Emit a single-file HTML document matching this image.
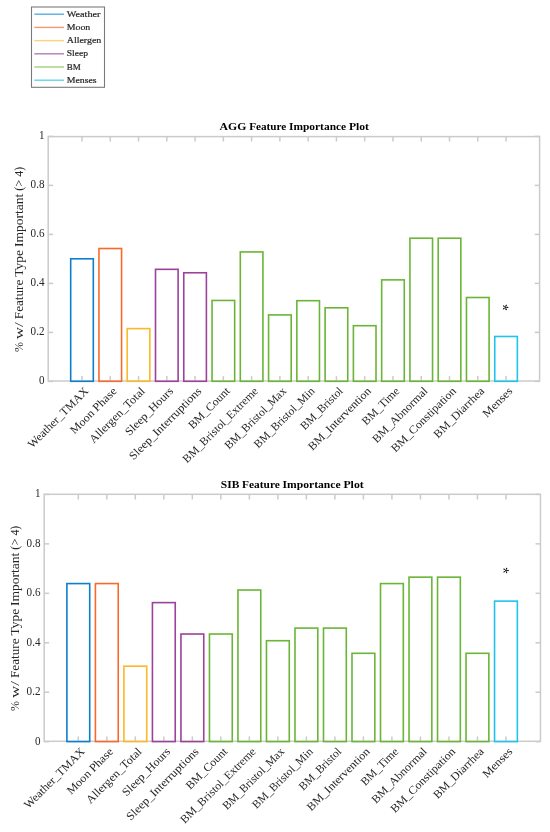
<!DOCTYPE html>
<html><head><meta charset="utf-8"><style>
html,body{margin:0;padding:0;background:#fff;}
svg{display:block;will-change:transform;font-family:"Liberation Serif", serif;}
</style></head><body>
<svg width="550" height="832" viewBox="0 0 550 832">
<rect x="31.5" y="7.0" width="73" height="80.3" fill="#fff" stroke="#7a7a7a" stroke-width="1.1"/>
<line x1="34.3" y1="14.20" x2="64" y2="14.20" stroke="#5aaee0" stroke-width="1.4"/>
<text x="66.70" y="16.80" font-size="9.1" fill="#262626" stroke="#262626" stroke-width="0.2" textLength="33.85" lengthAdjust="spacingAndGlyphs">Weather</text>
<line x1="34.3" y1="27.40" x2="64" y2="27.40" stroke="#f59a70" stroke-width="1.4"/>
<text x="66.70" y="30.00" font-size="9.1" fill="#262626" stroke="#262626" stroke-width="0.2" textLength="23.58" lengthAdjust="spacingAndGlyphs">Moon</text>
<line x1="34.3" y1="40.60" x2="64" y2="40.60" stroke="#fcd27a" stroke-width="1.4"/>
<text x="66.70" y="43.20" font-size="9.1" fill="#262626" stroke="#262626" stroke-width="0.2" textLength="34.66" lengthAdjust="spacingAndGlyphs">Allergen</text>
<line x1="34.3" y1="53.80" x2="64" y2="53.80" stroke="#b47ab8" stroke-width="1.4"/>
<text x="66.70" y="56.40" font-size="9.1" fill="#262626" stroke="#262626" stroke-width="0.2" textLength="21.38" lengthAdjust="spacingAndGlyphs">Sleep</text>
<line x1="34.3" y1="67.00" x2="64" y2="67.00" stroke="#9fd07a" stroke-width="1.4"/>
<text x="66.70" y="69.60" font-size="9.1" fill="#262626" stroke="#262626" stroke-width="0.2" textLength="14.01" lengthAdjust="spacingAndGlyphs">BM</text>
<line x1="34.3" y1="80.20" x2="64" y2="80.20" stroke="#62d4f0" stroke-width="1.4"/>
<text x="66.70" y="82.80" font-size="9.1" fill="#262626" stroke="#262626" stroke-width="0.2" textLength="30.01" lengthAdjust="spacingAndGlyphs">Menses</text>
<rect x="48.2" y="136.6" width="491.40000000000003" height="244.4" fill="none" stroke="#cbcbcb" stroke-width="1.5"/>
<line x1="82.00" y1="381" x2="82.00" y2="376.1" stroke="#cbcbcb" stroke-width="1.5"/>
<line x1="82.00" y1="136.6" x2="82.00" y2="141.5" stroke="#cbcbcb" stroke-width="1.5"/>
<line x1="110.27" y1="381" x2="110.27" y2="376.1" stroke="#cbcbcb" stroke-width="1.5"/>
<line x1="110.27" y1="136.6" x2="110.27" y2="141.5" stroke="#cbcbcb" stroke-width="1.5"/>
<line x1="138.54" y1="381" x2="138.54" y2="376.1" stroke="#cbcbcb" stroke-width="1.5"/>
<line x1="138.54" y1="136.6" x2="138.54" y2="141.5" stroke="#cbcbcb" stroke-width="1.5"/>
<line x1="166.81" y1="381" x2="166.81" y2="376.1" stroke="#cbcbcb" stroke-width="1.5"/>
<line x1="166.81" y1="136.6" x2="166.81" y2="141.5" stroke="#cbcbcb" stroke-width="1.5"/>
<line x1="195.08" y1="381" x2="195.08" y2="376.1" stroke="#cbcbcb" stroke-width="1.5"/>
<line x1="195.08" y1="136.6" x2="195.08" y2="141.5" stroke="#cbcbcb" stroke-width="1.5"/>
<line x1="223.35" y1="381" x2="223.35" y2="376.1" stroke="#cbcbcb" stroke-width="1.5"/>
<line x1="223.35" y1="136.6" x2="223.35" y2="141.5" stroke="#cbcbcb" stroke-width="1.5"/>
<line x1="251.62" y1="381" x2="251.62" y2="376.1" stroke="#cbcbcb" stroke-width="1.5"/>
<line x1="251.62" y1="136.6" x2="251.62" y2="141.5" stroke="#cbcbcb" stroke-width="1.5"/>
<line x1="279.89" y1="381" x2="279.89" y2="376.1" stroke="#cbcbcb" stroke-width="1.5"/>
<line x1="279.89" y1="136.6" x2="279.89" y2="141.5" stroke="#cbcbcb" stroke-width="1.5"/>
<line x1="308.16" y1="381" x2="308.16" y2="376.1" stroke="#cbcbcb" stroke-width="1.5"/>
<line x1="308.16" y1="136.6" x2="308.16" y2="141.5" stroke="#cbcbcb" stroke-width="1.5"/>
<line x1="336.43" y1="381" x2="336.43" y2="376.1" stroke="#cbcbcb" stroke-width="1.5"/>
<line x1="336.43" y1="136.6" x2="336.43" y2="141.5" stroke="#cbcbcb" stroke-width="1.5"/>
<line x1="364.70" y1="381" x2="364.70" y2="376.1" stroke="#cbcbcb" stroke-width="1.5"/>
<line x1="364.70" y1="136.6" x2="364.70" y2="141.5" stroke="#cbcbcb" stroke-width="1.5"/>
<line x1="392.97" y1="381" x2="392.97" y2="376.1" stroke="#cbcbcb" stroke-width="1.5"/>
<line x1="392.97" y1="136.6" x2="392.97" y2="141.5" stroke="#cbcbcb" stroke-width="1.5"/>
<line x1="421.24" y1="381" x2="421.24" y2="376.1" stroke="#cbcbcb" stroke-width="1.5"/>
<line x1="421.24" y1="136.6" x2="421.24" y2="141.5" stroke="#cbcbcb" stroke-width="1.5"/>
<line x1="449.51" y1="381" x2="449.51" y2="376.1" stroke="#cbcbcb" stroke-width="1.5"/>
<line x1="449.51" y1="136.6" x2="449.51" y2="141.5" stroke="#cbcbcb" stroke-width="1.5"/>
<line x1="477.78" y1="381" x2="477.78" y2="376.1" stroke="#cbcbcb" stroke-width="1.5"/>
<line x1="477.78" y1="136.6" x2="477.78" y2="141.5" stroke="#cbcbcb" stroke-width="1.5"/>
<line x1="506.05" y1="381" x2="506.05" y2="376.1" stroke="#cbcbcb" stroke-width="1.5"/>
<line x1="506.05" y1="136.6" x2="506.05" y2="141.5" stroke="#cbcbcb" stroke-width="1.5"/>
<line x1="48.2" y1="381.40" x2="53.1" y2="381.40" stroke="#cbcbcb" stroke-width="1.5"/>
<line x1="539.6" y1="381.40" x2="534.7" y2="381.40" stroke="#cbcbcb" stroke-width="1.5"/>
<text x="38.95" y="384.20" font-size="11.5" fill="#262626" textLength="5.55" lengthAdjust="spacingAndGlyphs">0</text>
<line x1="48.2" y1="332.40" x2="53.1" y2="332.40" stroke="#cbcbcb" stroke-width="1.5"/>
<line x1="539.6" y1="332.40" x2="534.7" y2="332.40" stroke="#cbcbcb" stroke-width="1.5"/>
<text x="30.62" y="335.20" font-size="11.5" fill="#262626" textLength="13.88" lengthAdjust="spacingAndGlyphs">0.2</text>
<line x1="48.2" y1="283.40" x2="53.1" y2="283.40" stroke="#cbcbcb" stroke-width="1.5"/>
<line x1="539.6" y1="283.40" x2="534.7" y2="283.40" stroke="#cbcbcb" stroke-width="1.5"/>
<text x="30.62" y="286.20" font-size="11.5" fill="#262626" textLength="13.88" lengthAdjust="spacingAndGlyphs">0.4</text>
<line x1="48.2" y1="234.40" x2="53.1" y2="234.40" stroke="#cbcbcb" stroke-width="1.5"/>
<line x1="539.6" y1="234.40" x2="534.7" y2="234.40" stroke="#cbcbcb" stroke-width="1.5"/>
<text x="30.62" y="237.20" font-size="11.5" fill="#262626" textLength="13.88" lengthAdjust="spacingAndGlyphs">0.6</text>
<line x1="48.2" y1="185.40" x2="53.1" y2="185.40" stroke="#cbcbcb" stroke-width="1.5"/>
<line x1="539.6" y1="185.40" x2="534.7" y2="185.40" stroke="#cbcbcb" stroke-width="1.5"/>
<text x="30.62" y="188.20" font-size="11.5" fill="#262626" textLength="13.88" lengthAdjust="spacingAndGlyphs">0.8</text>
<line x1="48.2" y1="136.40" x2="53.1" y2="136.40" stroke="#cbcbcb" stroke-width="1.5"/>
<line x1="539.6" y1="136.40" x2="534.7" y2="136.40" stroke="#cbcbcb" stroke-width="1.5"/>
<text x="38.95" y="139.20" font-size="11.5" fill="#262626" textLength="5.55" lengthAdjust="spacingAndGlyphs">1</text>
<rect x="70.69" y="258.80" width="22.62" height="122.50" fill="none" stroke="#0d7fcf" stroke-width="1.6"/>
<rect x="98.96" y="248.51" width="22.62" height="132.79" fill="none" stroke="#f9692c" stroke-width="1.6"/>
<rect x="127.23" y="328.62" width="22.62" height="52.67" fill="none" stroke="#fbb829" stroke-width="1.6"/>
<rect x="155.50" y="269.33" width="22.62" height="111.97" fill="none" stroke="#9b429b" stroke-width="1.6"/>
<rect x="183.77" y="272.77" width="22.62" height="108.53" fill="none" stroke="#9b429b" stroke-width="1.6"/>
<rect x="212.04" y="300.45" width="22.62" height="80.85" fill="none" stroke="#6ab538" stroke-width="1.6"/>
<rect x="240.31" y="251.94" width="22.62" height="129.36" fill="none" stroke="#6ab538" stroke-width="1.6"/>
<rect x="268.58" y="314.91" width="22.62" height="66.40" fill="none" stroke="#6ab538" stroke-width="1.6"/>
<rect x="296.85" y="300.69" width="22.62" height="80.61" fill="none" stroke="#6ab538" stroke-width="1.6"/>
<rect x="325.12" y="307.80" width="22.62" height="73.50" fill="none" stroke="#6ab538" stroke-width="1.6"/>
<rect x="353.39" y="325.69" width="22.62" height="55.62" fill="none" stroke="#6ab538" stroke-width="1.6"/>
<rect x="381.66" y="279.87" width="22.62" height="101.43" fill="none" stroke="#6ab538" stroke-width="1.6"/>
<rect x="409.93" y="238.22" width="22.62" height="143.08" fill="none" stroke="#6ab538" stroke-width="1.6"/>
<rect x="438.20" y="238.22" width="22.62" height="143.08" fill="none" stroke="#6ab538" stroke-width="1.6"/>
<rect x="466.47" y="297.51" width="22.62" height="83.79" fill="none" stroke="#6ab538" stroke-width="1.6"/>
<rect x="494.74" y="336.47" width="22.62" height="44.84" fill="none" stroke="#1fc3ee" stroke-width="1.6"/>
<text x="219.63" y="129.70" font-size="11.3" font-weight="bold" fill="#000" textLength="26.76" lengthAdjust="spacingAndGlyphs">AGG</text>
<text x="249.13" y="129.70" font-size="11.3" font-weight="bold" fill="#000" textLength="37.11" lengthAdjust="spacingAndGlyphs">Feature</text>
<text x="288.98" y="129.70" font-size="11.3" font-weight="bold" fill="#000" textLength="57.18" lengthAdjust="spacingAndGlyphs">Importance</text>
<text x="348.90" y="129.70" font-size="11.3" font-weight="bold" fill="#000" textLength="20.07" lengthAdjust="spacingAndGlyphs">Plot</text>
<text transform="translate(23.2,259.5) rotate(-90)" x="-92.64" y="0.00" font-size="11.9" fill="#262626" textLength="9.95" lengthAdjust="spacingAndGlyphs">%</text>
<text transform="translate(23.2,259.5) rotate(-90)" x="-79.72" y="0.00" font-size="11.9" fill="#262626" textLength="17.06" lengthAdjust="spacingAndGlyphs">w/</text>
<text transform="translate(23.2,259.5) rotate(-90)" x="-59.69" y="0.00" font-size="11.9" fill="#262626" textLength="39.56" lengthAdjust="spacingAndGlyphs">Feature</text>
<text transform="translate(23.2,259.5) rotate(-90)" x="-17.18" y="0.00" font-size="11.9" fill="#262626" textLength="26.65" lengthAdjust="spacingAndGlyphs">Type</text>
<text transform="translate(23.2,259.5) rotate(-90)" x="12.44" y="0.00" font-size="11.9" fill="#262626" textLength="53.28" lengthAdjust="spacingAndGlyphs">Important</text>
<text transform="translate(23.2,259.5) rotate(-90)" x="68.68" y="0.00" font-size="11.9" fill="#262626" textLength="11.13" lengthAdjust="spacingAndGlyphs">(&gt;</text>
<text transform="translate(23.2,259.5) rotate(-90)" x="82.77" y="0.00" font-size="11.9" fill="#262626" textLength="9.87" lengthAdjust="spacingAndGlyphs">4)</text>
<text transform="translate(89.15,391.75) rotate(-45)" x="-80.64" y="0.00" font-size="11.5" fill="#262626" textLength="80.64" lengthAdjust="spacingAndGlyphs">Weather_TMAX</text>
<text transform="translate(117.42,391.75) rotate(-45)" x="-60.59" y="0.00" font-size="11.5" fill="#262626" textLength="29.08" lengthAdjust="spacingAndGlyphs">Moon</text>
<text transform="translate(117.42,391.75) rotate(-45)" x="-28.74" y="0.00" font-size="11.5" fill="#262626" textLength="28.74" lengthAdjust="spacingAndGlyphs">Phase</text>
<text transform="translate(145.69,391.75) rotate(-45)" x="-73.56" y="0.00" font-size="11.5" fill="#262626" textLength="73.56" lengthAdjust="spacingAndGlyphs">Allergen_Total</text>
<text transform="translate(173.96,391.75) rotate(-45)" x="-62.99" y="0.00" font-size="11.5" fill="#262626" textLength="62.99" lengthAdjust="spacingAndGlyphs">Sleep_Hours</text>
<text transform="translate(202.23,391.75) rotate(-45)" x="-97.26" y="0.00" font-size="11.5" fill="#262626" textLength="97.26" lengthAdjust="spacingAndGlyphs">Sleep_Interruptions</text>
<text transform="translate(230.50,391.75) rotate(-45)" x="-53.54" y="0.00" font-size="11.5" fill="#262626" textLength="53.54" lengthAdjust="spacingAndGlyphs">BM_Count</text>
<text transform="translate(258.77,391.75) rotate(-45)" x="-101.34" y="0.00" font-size="11.5" fill="#262626" textLength="101.34" lengthAdjust="spacingAndGlyphs">BM_Bristol_Extreme</text>
<text transform="translate(287.04,391.75) rotate(-45)" x="-82.17" y="0.00" font-size="11.5" fill="#262626" textLength="82.17" lengthAdjust="spacingAndGlyphs">BM_Bristol_Max</text>
<text transform="translate(315.31,391.75) rotate(-45)" x="-80.59" y="0.00" font-size="11.5" fill="#262626" textLength="80.59" lengthAdjust="spacingAndGlyphs">BM_Bristol_Min</text>
<text transform="translate(343.58,391.75) rotate(-45)" x="-54.85" y="0.00" font-size="11.5" fill="#262626" textLength="54.85" lengthAdjust="spacingAndGlyphs">BM_Bristol</text>
<text transform="translate(371.85,391.75) rotate(-45)" x="-83.77" y="0.00" font-size="11.5" fill="#262626" textLength="83.77" lengthAdjust="spacingAndGlyphs">BM_Intervention</text>
<text transform="translate(400.12,391.75) rotate(-45)" x="-47.99" y="0.00" font-size="11.5" fill="#262626" textLength="47.99" lengthAdjust="spacingAndGlyphs">BM_Time</text>
<text transform="translate(428.39,391.75) rotate(-45)" x="-73.09" y="0.00" font-size="11.5" fill="#262626" textLength="73.09" lengthAdjust="spacingAndGlyphs">BM_Abnormal</text>
<text transform="translate(456.66,391.75) rotate(-45)" x="-86.37" y="0.00" font-size="11.5" fill="#262626" textLength="86.37" lengthAdjust="spacingAndGlyphs">BM_Constipation</text>
<text transform="translate(484.93,391.75) rotate(-45)" x="-66.30" y="0.00" font-size="11.5" fill="#262626" textLength="66.30" lengthAdjust="spacingAndGlyphs">BM_Diarrhea</text>
<text transform="translate(513.20,391.75) rotate(-45)" x="-37.01" y="0.00" font-size="11.5" fill="#262626" textLength="37.01" lengthAdjust="spacingAndGlyphs">Menses</text>
<path d="M505.50 307.40L507.80 307.40M505.50 307.40L506.21 309.59M505.50 307.40L503.64 308.75M505.50 307.40L503.64 306.05M505.50 307.40L506.21 305.21" stroke="#222" stroke-width="0.85" stroke-linecap="round" fill="none"/>
<circle cx="507.70" cy="307.40" r="0.65" fill="#111"/>
<circle cx="506.18" cy="309.49" r="0.65" fill="#111"/>
<circle cx="503.72" cy="308.69" r="0.65" fill="#111"/>
<circle cx="503.72" cy="306.11" r="0.65" fill="#111"/>
<circle cx="506.18" cy="305.31" r="0.65" fill="#111"/>
<rect x="44.2" y="494.3" width="496.25" height="246.99999999999994" fill="none" stroke="#cbcbcb" stroke-width="1.5"/>
<line x1="78.30" y1="741.3" x2="78.30" y2="736.4" stroke="#cbcbcb" stroke-width="1.5"/>
<line x1="78.30" y1="494.6" x2="78.30" y2="499.5" stroke="#cbcbcb" stroke-width="1.5"/>
<line x1="106.81" y1="741.3" x2="106.81" y2="736.4" stroke="#cbcbcb" stroke-width="1.5"/>
<line x1="106.81" y1="494.6" x2="106.81" y2="499.5" stroke="#cbcbcb" stroke-width="1.5"/>
<line x1="135.32" y1="741.3" x2="135.32" y2="736.4" stroke="#cbcbcb" stroke-width="1.5"/>
<line x1="135.32" y1="494.6" x2="135.32" y2="499.5" stroke="#cbcbcb" stroke-width="1.5"/>
<line x1="163.83" y1="741.3" x2="163.83" y2="736.4" stroke="#cbcbcb" stroke-width="1.5"/>
<line x1="163.83" y1="494.6" x2="163.83" y2="499.5" stroke="#cbcbcb" stroke-width="1.5"/>
<line x1="192.34" y1="741.3" x2="192.34" y2="736.4" stroke="#cbcbcb" stroke-width="1.5"/>
<line x1="192.34" y1="494.6" x2="192.34" y2="499.5" stroke="#cbcbcb" stroke-width="1.5"/>
<line x1="220.85" y1="741.3" x2="220.85" y2="736.4" stroke="#cbcbcb" stroke-width="1.5"/>
<line x1="220.85" y1="494.6" x2="220.85" y2="499.5" stroke="#cbcbcb" stroke-width="1.5"/>
<line x1="249.36" y1="741.3" x2="249.36" y2="736.4" stroke="#cbcbcb" stroke-width="1.5"/>
<line x1="249.36" y1="494.6" x2="249.36" y2="499.5" stroke="#cbcbcb" stroke-width="1.5"/>
<line x1="277.87" y1="741.3" x2="277.87" y2="736.4" stroke="#cbcbcb" stroke-width="1.5"/>
<line x1="277.87" y1="494.6" x2="277.87" y2="499.5" stroke="#cbcbcb" stroke-width="1.5"/>
<line x1="306.38" y1="741.3" x2="306.38" y2="736.4" stroke="#cbcbcb" stroke-width="1.5"/>
<line x1="306.38" y1="494.6" x2="306.38" y2="499.5" stroke="#cbcbcb" stroke-width="1.5"/>
<line x1="334.89" y1="741.3" x2="334.89" y2="736.4" stroke="#cbcbcb" stroke-width="1.5"/>
<line x1="334.89" y1="494.6" x2="334.89" y2="499.5" stroke="#cbcbcb" stroke-width="1.5"/>
<line x1="363.40" y1="741.3" x2="363.40" y2="736.4" stroke="#cbcbcb" stroke-width="1.5"/>
<line x1="363.40" y1="494.6" x2="363.40" y2="499.5" stroke="#cbcbcb" stroke-width="1.5"/>
<line x1="391.91" y1="741.3" x2="391.91" y2="736.4" stroke="#cbcbcb" stroke-width="1.5"/>
<line x1="391.91" y1="494.6" x2="391.91" y2="499.5" stroke="#cbcbcb" stroke-width="1.5"/>
<line x1="420.42" y1="741.3" x2="420.42" y2="736.4" stroke="#cbcbcb" stroke-width="1.5"/>
<line x1="420.42" y1="494.6" x2="420.42" y2="499.5" stroke="#cbcbcb" stroke-width="1.5"/>
<line x1="448.93" y1="741.3" x2="448.93" y2="736.4" stroke="#cbcbcb" stroke-width="1.5"/>
<line x1="448.93" y1="494.6" x2="448.93" y2="499.5" stroke="#cbcbcb" stroke-width="1.5"/>
<line x1="477.44" y1="741.3" x2="477.44" y2="736.4" stroke="#cbcbcb" stroke-width="1.5"/>
<line x1="477.44" y1="494.6" x2="477.44" y2="499.5" stroke="#cbcbcb" stroke-width="1.5"/>
<line x1="505.95" y1="741.3" x2="505.95" y2="736.4" stroke="#cbcbcb" stroke-width="1.5"/>
<line x1="505.95" y1="494.6" x2="505.95" y2="499.5" stroke="#cbcbcb" stroke-width="1.5"/>
<line x1="44.2" y1="741.70" x2="49.1" y2="741.70" stroke="#cbcbcb" stroke-width="1.5"/>
<line x1="540.45" y1="741.70" x2="535.5500000000001" y2="741.70" stroke="#cbcbcb" stroke-width="1.5"/>
<text x="34.95" y="744.50" font-size="11.5" fill="#262626" textLength="5.55" lengthAdjust="spacingAndGlyphs">0</text>
<line x1="44.2" y1="692.24" x2="49.1" y2="692.24" stroke="#cbcbcb" stroke-width="1.5"/>
<line x1="540.45" y1="692.24" x2="535.5500000000001" y2="692.24" stroke="#cbcbcb" stroke-width="1.5"/>
<text x="26.62" y="695.04" font-size="11.5" fill="#262626" textLength="13.88" lengthAdjust="spacingAndGlyphs">0.2</text>
<line x1="44.2" y1="642.78" x2="49.1" y2="642.78" stroke="#cbcbcb" stroke-width="1.5"/>
<line x1="540.45" y1="642.78" x2="535.5500000000001" y2="642.78" stroke="#cbcbcb" stroke-width="1.5"/>
<text x="26.62" y="645.58" font-size="11.5" fill="#262626" textLength="13.88" lengthAdjust="spacingAndGlyphs">0.4</text>
<line x1="44.2" y1="593.32" x2="49.1" y2="593.32" stroke="#cbcbcb" stroke-width="1.5"/>
<line x1="540.45" y1="593.32" x2="535.5500000000001" y2="593.32" stroke="#cbcbcb" stroke-width="1.5"/>
<text x="26.62" y="596.12" font-size="11.5" fill="#262626" textLength="13.88" lengthAdjust="spacingAndGlyphs">0.6</text>
<line x1="44.2" y1="543.86" x2="49.1" y2="543.86" stroke="#cbcbcb" stroke-width="1.5"/>
<line x1="540.45" y1="543.86" x2="535.5500000000001" y2="543.86" stroke="#cbcbcb" stroke-width="1.5"/>
<text x="26.62" y="546.66" font-size="11.5" fill="#262626" textLength="13.88" lengthAdjust="spacingAndGlyphs">0.8</text>
<line x1="44.2" y1="494.40" x2="49.1" y2="494.40" stroke="#cbcbcb" stroke-width="1.5"/>
<line x1="540.45" y1="494.40" x2="535.5500000000001" y2="494.40" stroke="#cbcbcb" stroke-width="1.5"/>
<text x="34.95" y="497.20" font-size="11.5" fill="#262626" textLength="5.55" lengthAdjust="spacingAndGlyphs">1</text>
<rect x="66.90" y="583.58" width="22.81" height="158.02" fill="none" stroke="#0d7fcf" stroke-width="1.6"/>
<rect x="95.41" y="583.58" width="22.81" height="158.02" fill="none" stroke="#f9692c" stroke-width="1.6"/>
<rect x="123.92" y="666.17" width="22.81" height="75.43" fill="none" stroke="#fbb829" stroke-width="1.6"/>
<rect x="152.43" y="602.62" width="22.81" height="138.98" fill="none" stroke="#9b429b" stroke-width="1.6"/>
<rect x="180.94" y="634.02" width="22.81" height="107.58" fill="none" stroke="#9b429b" stroke-width="1.6"/>
<rect x="209.45" y="634.02" width="22.81" height="107.58" fill="none" stroke="#6ab538" stroke-width="1.6"/>
<rect x="237.96" y="590.01" width="22.81" height="151.59" fill="none" stroke="#6ab538" stroke-width="1.6"/>
<rect x="266.47" y="640.70" width="22.81" height="100.90" fill="none" stroke="#6ab538" stroke-width="1.6"/>
<rect x="294.98" y="628.09" width="22.81" height="113.51" fill="none" stroke="#6ab538" stroke-width="1.6"/>
<rect x="323.49" y="628.09" width="22.81" height="113.51" fill="none" stroke="#6ab538" stroke-width="1.6"/>
<rect x="352.00" y="653.31" width="22.81" height="88.29" fill="none" stroke="#6ab538" stroke-width="1.6"/>
<rect x="380.51" y="583.58" width="22.81" height="158.02" fill="none" stroke="#6ab538" stroke-width="1.6"/>
<rect x="409.02" y="577.15" width="22.81" height="164.45" fill="none" stroke="#6ab538" stroke-width="1.6"/>
<rect x="437.53" y="577.15" width="22.81" height="164.45" fill="none" stroke="#6ab538" stroke-width="1.6"/>
<rect x="466.04" y="653.31" width="22.81" height="88.29" fill="none" stroke="#6ab538" stroke-width="1.6"/>
<rect x="494.55" y="601.13" width="22.81" height="140.47" fill="none" stroke="#1fc3ee" stroke-width="1.6"/>
<text x="220.83" y="487.70" font-size="11.3" font-weight="bold" fill="#000" textLength="18.53" lengthAdjust="spacingAndGlyphs">SIB</text>
<text x="242.14" y="487.70" font-size="11.3" font-weight="bold" fill="#000" textLength="37.67" lengthAdjust="spacingAndGlyphs">Feature</text>
<text x="282.58" y="487.70" font-size="11.3" font-weight="bold" fill="#000" textLength="58.04" lengthAdjust="spacingAndGlyphs">Importance</text>
<text x="343.40" y="487.70" font-size="11.3" font-weight="bold" fill="#000" textLength="20.37" lengthAdjust="spacingAndGlyphs">Plot</text>
<text transform="translate(19.3,618.35) rotate(-90)" x="-92.64" y="0.00" font-size="11.9" fill="#262626" textLength="9.95" lengthAdjust="spacingAndGlyphs">%</text>
<text transform="translate(19.3,618.35) rotate(-90)" x="-79.72" y="0.00" font-size="11.9" fill="#262626" textLength="17.06" lengthAdjust="spacingAndGlyphs">w/</text>
<text transform="translate(19.3,618.35) rotate(-90)" x="-59.69" y="0.00" font-size="11.9" fill="#262626" textLength="39.56" lengthAdjust="spacingAndGlyphs">Feature</text>
<text transform="translate(19.3,618.35) rotate(-90)" x="-17.18" y="0.00" font-size="11.9" fill="#262626" textLength="26.65" lengthAdjust="spacingAndGlyphs">Type</text>
<text transform="translate(19.3,618.35) rotate(-90)" x="12.44" y="0.00" font-size="11.9" fill="#262626" textLength="53.28" lengthAdjust="spacingAndGlyphs">Important</text>
<text transform="translate(19.3,618.35) rotate(-90)" x="68.68" y="0.00" font-size="11.9" fill="#262626" textLength="11.13" lengthAdjust="spacingAndGlyphs">(&gt;</text>
<text transform="translate(19.3,618.35) rotate(-90)" x="82.77" y="0.00" font-size="11.9" fill="#262626" textLength="9.87" lengthAdjust="spacingAndGlyphs">4)</text>
<text transform="translate(85.45,752.25) rotate(-45)" x="-80.64" y="0.00" font-size="11.5" fill="#262626" textLength="80.64" lengthAdjust="spacingAndGlyphs">Weather_TMAX</text>
<text transform="translate(113.96,752.25) rotate(-45)" x="-60.59" y="0.00" font-size="11.5" fill="#262626" textLength="29.08" lengthAdjust="spacingAndGlyphs">Moon</text>
<text transform="translate(113.96,752.25) rotate(-45)" x="-28.74" y="0.00" font-size="11.5" fill="#262626" textLength="28.74" lengthAdjust="spacingAndGlyphs">Phase</text>
<text transform="translate(142.47,752.25) rotate(-45)" x="-73.56" y="0.00" font-size="11.5" fill="#262626" textLength="73.56" lengthAdjust="spacingAndGlyphs">Allergen_Total</text>
<text transform="translate(170.98,752.25) rotate(-45)" x="-62.99" y="0.00" font-size="11.5" fill="#262626" textLength="62.99" lengthAdjust="spacingAndGlyphs">Sleep_Hours</text>
<text transform="translate(199.49,752.25) rotate(-45)" x="-97.26" y="0.00" font-size="11.5" fill="#262626" textLength="97.26" lengthAdjust="spacingAndGlyphs">Sleep_Interruptions</text>
<text transform="translate(228.00,752.25) rotate(-45)" x="-53.54" y="0.00" font-size="11.5" fill="#262626" textLength="53.54" lengthAdjust="spacingAndGlyphs">BM_Count</text>
<text transform="translate(256.51,752.25) rotate(-45)" x="-101.34" y="0.00" font-size="11.5" fill="#262626" textLength="101.34" lengthAdjust="spacingAndGlyphs">BM_Bristol_Extreme</text>
<text transform="translate(285.02,752.25) rotate(-45)" x="-82.17" y="0.00" font-size="11.5" fill="#262626" textLength="82.17" lengthAdjust="spacingAndGlyphs">BM_Bristol_Max</text>
<text transform="translate(313.53,752.25) rotate(-45)" x="-80.59" y="0.00" font-size="11.5" fill="#262626" textLength="80.59" lengthAdjust="spacingAndGlyphs">BM_Bristol_Min</text>
<text transform="translate(342.04,752.25) rotate(-45)" x="-54.85" y="0.00" font-size="11.5" fill="#262626" textLength="54.85" lengthAdjust="spacingAndGlyphs">BM_Bristol</text>
<text transform="translate(370.55,752.25) rotate(-45)" x="-83.77" y="0.00" font-size="11.5" fill="#262626" textLength="83.77" lengthAdjust="spacingAndGlyphs">BM_Intervention</text>
<text transform="translate(399.06,752.25) rotate(-45)" x="-47.99" y="0.00" font-size="11.5" fill="#262626" textLength="47.99" lengthAdjust="spacingAndGlyphs">BM_Time</text>
<text transform="translate(427.57,752.25) rotate(-45)" x="-73.09" y="0.00" font-size="11.5" fill="#262626" textLength="73.09" lengthAdjust="spacingAndGlyphs">BM_Abnormal</text>
<text transform="translate(456.08,752.25) rotate(-45)" x="-86.37" y="0.00" font-size="11.5" fill="#262626" textLength="86.37" lengthAdjust="spacingAndGlyphs">BM_Constipation</text>
<text transform="translate(484.59,752.25) rotate(-45)" x="-66.30" y="0.00" font-size="11.5" fill="#262626" textLength="66.30" lengthAdjust="spacingAndGlyphs">BM_Diarrhea</text>
<text transform="translate(513.10,752.25) rotate(-45)" x="-37.01" y="0.00" font-size="11.5" fill="#262626" textLength="37.01" lengthAdjust="spacingAndGlyphs">Menses</text>
<path d="M505.90 570.50L508.20 570.50M505.90 570.50L506.61 572.69M505.90 570.50L504.04 571.85M505.90 570.50L504.04 569.15M505.90 570.50L506.61 568.31" stroke="#222" stroke-width="0.85" stroke-linecap="round" fill="none"/>
<circle cx="508.10" cy="570.50" r="0.65" fill="#111"/>
<circle cx="506.58" cy="572.59" r="0.65" fill="#111"/>
<circle cx="504.12" cy="571.79" r="0.65" fill="#111"/>
<circle cx="504.12" cy="569.21" r="0.65" fill="#111"/>
<circle cx="506.58" cy="568.41" r="0.65" fill="#111"/>
</svg>
</body></html>
